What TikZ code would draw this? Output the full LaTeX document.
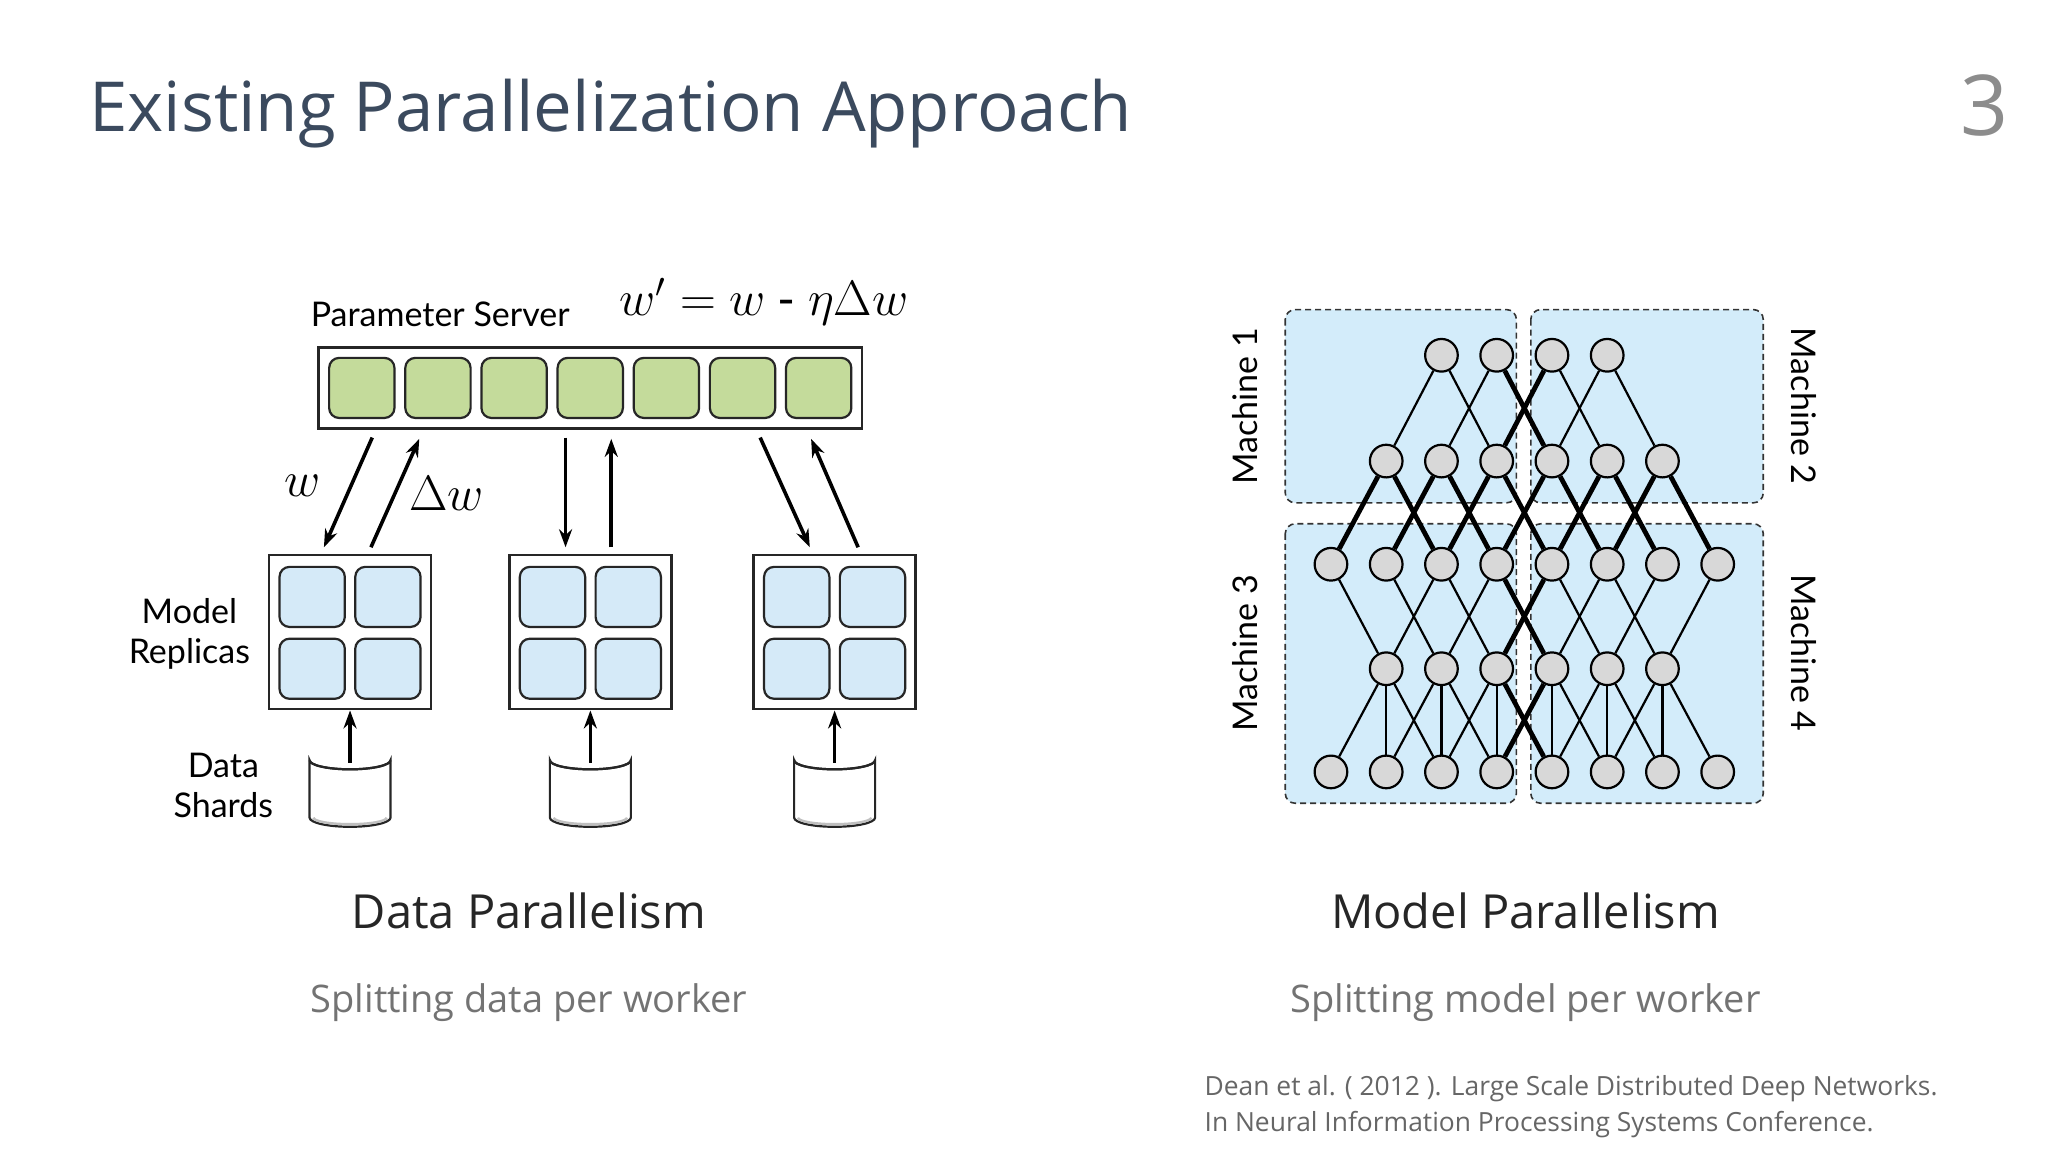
\documentclass[tikz,border=0pt]{standalone}
\usepackage{fontspec}
\setmainfont{Open Sans}
\newfontfamily\lbl{Lato}
\usetikzlibrary{arrows.meta}
\definecolor{titlec}{HTML}{3B4A5E}
\definecolor{psgreen}{HTML}{C4DB9B}
\definecolor{repblue}{HTML}{D5EAF8}
\definecolor{machblue}{HTML}{D3ECFA}
\definecolor{nodegray}{HTML}{D8D8D8}
\def\u{0.65306pt}
\begin{document}
\begin{tikzpicture}[x=0.65306pt, y=-0.65306pt,
  cell/.style={draw=black!85, line width=1.1pt, rounded corners=5pt, minimum width=50*\u, minimum height=46*\u, inner sep=0pt},
  frame/.style={draw=black!85, line width=1.2pt, fill=white, inner sep=0pt},
  flow/.style={-{Stealth[length=9pt,width=6.5pt]}, line width=1.8pt},
  mach/.style={draw=black!80, densely dashed, line width=0.8pt, fill=machblue, rounded corners=5pt},
  neuron/.style={circle, draw=black, line width=1.1pt, fill=nodegray, minimum size=25*\u, inner sep=0pt},
  mlabel/.style={font=\lbl\fontsize{17}{20}\selectfont},
  lab/.style={font=\lbl\fontsize{17}{20}\selectfont, align=center}]
\useasboundingbox (0,0) rectangle (1568,882);

% title
\node[anchor=base west, text=titlec, font=\fontsize{34.5}{42}\selectfont, inner sep=0pt] (title) at (68,101) {Existing Parallelization Approach};
\node[anchor=base east, text=black!45, font=\fontsize{42}{50}\selectfont, inner sep=0pt] (pnum) at (1538,104) {3};

% ---------- data parallelism ----------
\node[frame, minimum width=416*\u, minimum height=62*\u] (ps) at (452,297) {};
\foreach \i in {0,...,6}
  \node[cell, fill=psgreen] (p\i) at ({277+58.3*\i},297) {};
\node[lab] (pslab) at (337,241) {Parameter Server};
\node[font=\fontsize{25}{30}\selectfont] (upd) at (585,231) {$w' = w$ - $\eta\Delta w$};

\foreach \k/\x in {1/268, 2/452, 3/639} {
  \node[frame, minimum width=124*\u, minimum height=118*\u] (r\k) at (\x,484) {};
  \node[cell, fill=repblue] (r\k a) at (\x-29,457) {};
  \node[cell, fill=repblue] (r\k b) at (\x+29,457) {};
  \node[cell, fill=repblue] (r\k c) at (\x-29,512) {};
  \node[cell, fill=repblue] (r\k d) at (\x+29,512) {};
  % data shard cylinder
  \node[inner sep=0pt, minimum width=62*\u, minimum height=60*\u] (d\k) at (\x,605) {};
  \draw[black!85, line width=1.1pt, fill=white]
    (\x-31,582) -- (\x-31,626) arc[start angle=180, end angle=360, x radius=31, y radius=-7]
    -- (\x+31,582) arc[start angle=0, end angle=180, x radius=31, y radius=7] -- cycle;
  \draw[black!85, line width=1.1pt] (\x-31,582) arc[start angle=180, end angle=360, x radius=31, y radius=-7];
  \draw[black!25, line width=1.2pt] (\x-28,626) arc[start angle=180, end angle=0, x radius=28, y radius=5];
  \draw[flow] (d\k.center |- 0,584) -- (r\k.south);
}
\node[lab] (replab) at (145,485) {Model\\Replicas};
\node[lab] (shlab) at (171,601) {Data\\Shards};

\coordinate (a1) at (285,335); \coordinate (b1) at (248,419);
\coordinate (a2) at (284,419); \coordinate (b2) at (321,336);
\coordinate (a3) at (433,335); \coordinate (b3) at (433,419);
\coordinate (a4) at (468,419); \coordinate (b4) at (468,336);
\coordinate (a5) at (582,335); \coordinate (b5) at (620,419);
\coordinate (a6) at (657,419); \coordinate (b6) at (621,336);
\foreach \k in {1,...,6} \draw[flow] (a\k) -- (b\k);
\node[font=\fontsize{24}{28}\selectfont] (wl) at (232,372) {$w$};
\node[font=\fontsize{24}{28}\selectfont] (dwl) at (342,378) {$\Delta w$};

\node[font=\fontsize{23.5}{28}\selectfont, text=black!85] (dp) at (405,697) {Data Parallelism};
\node[font=\fontsize{19}{23}\selectfont, text=black!55] (dps) at (405,768) {Splitting data per worker};

% ---------- model parallelism ----------
\draw[mach] (984,237) rectangle (1161,385);
\draw[mach] (1172,237) rectangle (1350,385);
\draw[mach] (984,401) rectangle (1161,615);
\draw[mach] (1172,401) rectangle (1350,615);
\node[mlabel, rotate=90] (m1) at (953,311) {Machine 1};
\node[mlabel, rotate=90] (m3) at (953,500) {Machine 3};
\node[mlabel, rotate=-90] (m2) at (1381,311) {Machine 2};
\node[mlabel, rotate=-90] (m4) at (1381,500) {Machine 4};

\foreach \c in {2,...,5} \node[neuron] (n1-\c) at ({1019+42.3*\c},272) {};
\foreach \c in {1,...,6} \node[neuron] (n2-\c) at ({1019+42.3*\c},353) {};
\foreach \c in {0,...,7} \node[neuron] (n3-\c) at ({1019+42.3*\c},432) {};
\foreach \c in {1,...,6} \node[neuron] (n4-\c) at ({1019+42.3*\c},512) {};
\foreach \c in {0,...,7} \node[neuron] (n5-\c) at ({1019+42.3*\c},591) {};

\foreach \c in {2,...,5} \foreach \d in {-1,1} {
  \pgfmathtruncatemacro\t{\c+\d}
  \pgfmathsetmacro\lw{((\c<4)==(\t<4)) ? 1.1 : 2.4}
  \draw[line width=\lw pt] (n1-\c) -- (n2-\t);
}
\foreach \c in {1,...,6} \foreach \d in {-1,1} {
  \pgfmathtruncatemacro\t{\c+\d}
  \draw[line width=2.4pt] (n2-\c) -- (n3-\t);
}
\foreach \c/\t in {0/1, 1/2, 2/1, 2/3, 3/2, 3/4, 4/3, 4/5, 5/4, 5/6, 6/5, 7/6} {
  \pgfmathsetmacro\lw{((\c<4)==(\t<4)) ? 1.1 : 2.4}
  \draw[line width=\lw pt] (n3-\c) -- (n4-\t);
}
\foreach \c in {1,...,6} \foreach \d in {-1,0,1} {
  \pgfmathtruncatemacro\t{\c+\d}
  \pgfmathsetmacro\lw{((\c<4)==(\t<4)) ? 1.1 : 2.4}
  \draw[line width=\lw pt] (n4-\c) -- (n5-\t);
}

\node[font=\fontsize{23.5}{28}\selectfont, text=black!85] (mp) at (1168,697) {Model Parallelism};
\node[font=\fontsize{19}{23}\selectfont, text=black!55] (mps) at (1168,768) {Splitting model per worker};
\node[anchor=north west, align=left, text=black!60, font=\fontsize{13.2}{18}\selectfont, inner sep=0pt] (cite) at (922,823) {Dean et al. ( 2012 ). Large Scale Distributed Deep Networks.\\In Neural Information Processing Systems Conference.};
\end{tikzpicture}
\end{document}
